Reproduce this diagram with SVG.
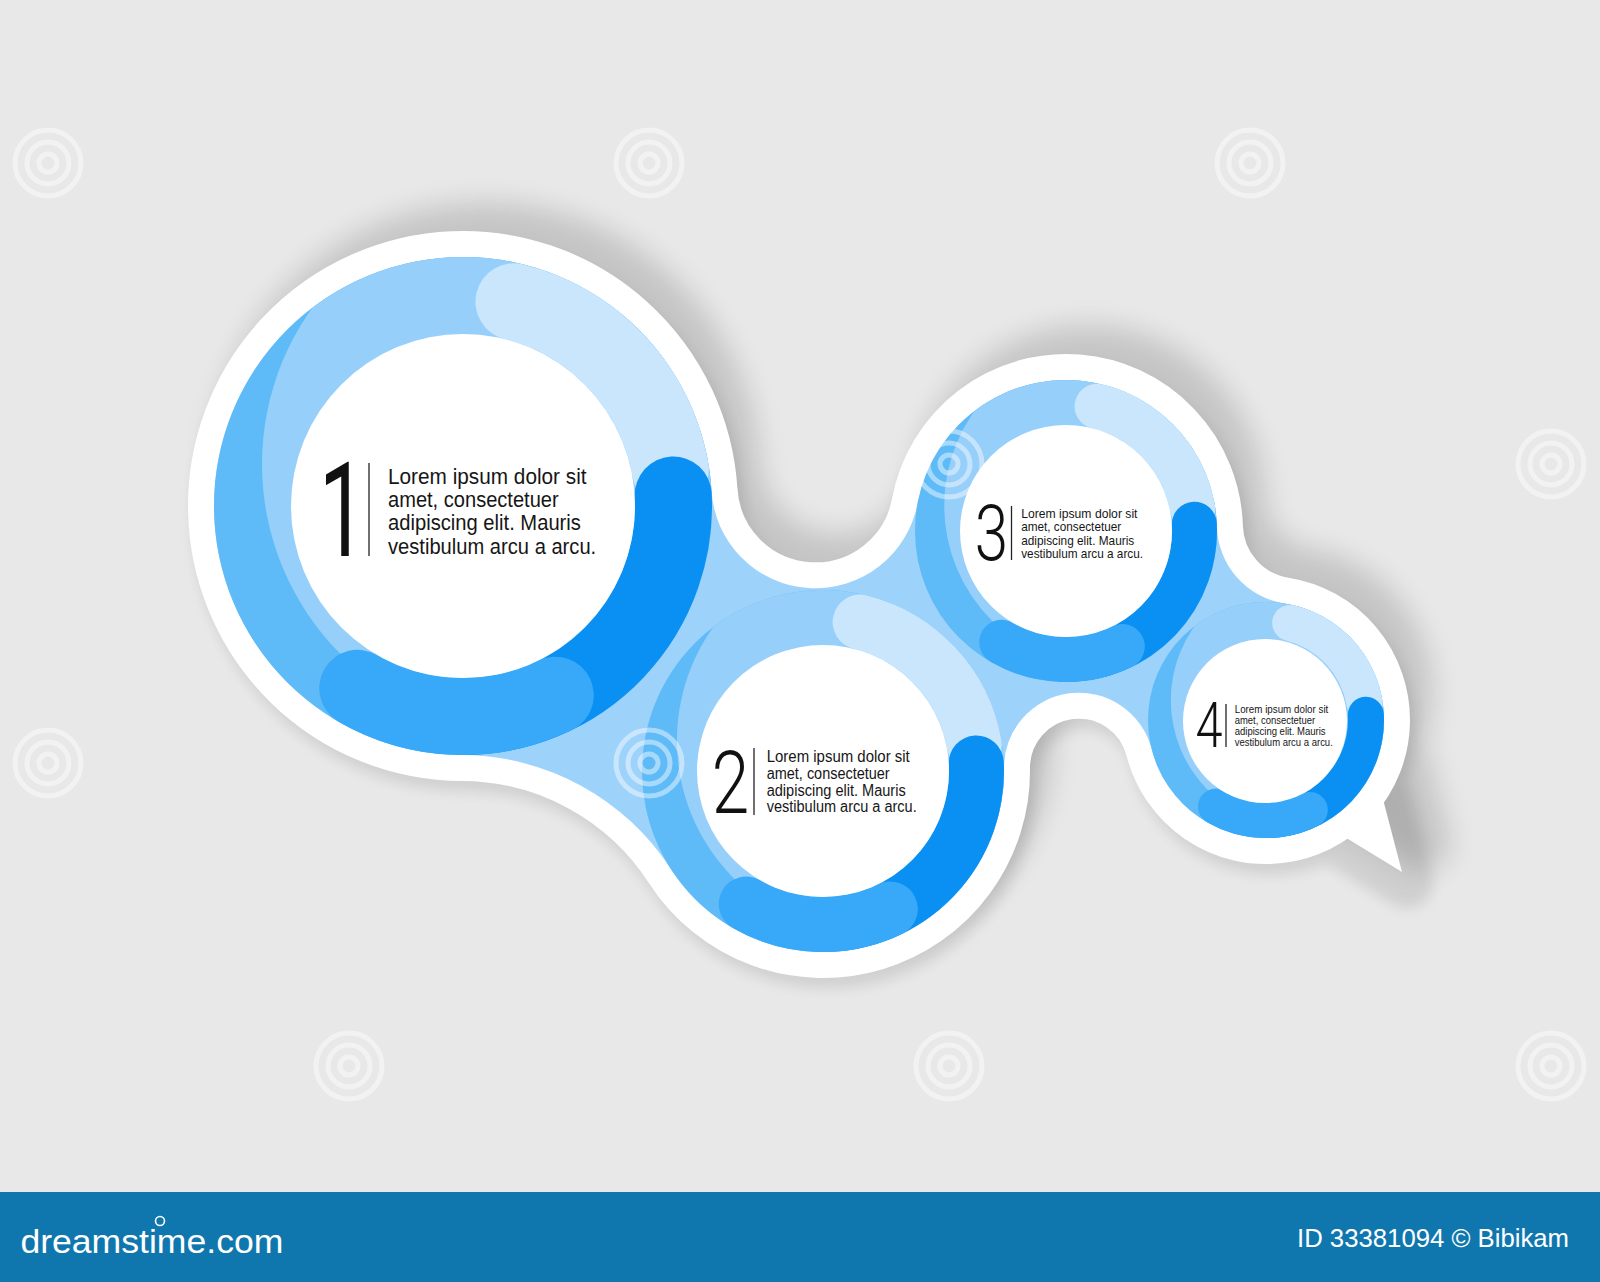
<svg xmlns="http://www.w3.org/2000/svg" width="1600" height="1282" viewBox="0 0 1600 1282">
<defs>
<style>
.lorem{font-family:'Liberation Sans','DejaVu Sans',sans-serif;fill:#161616}
.num{font-family:Roboto,'Liberation Sans',sans-serif;font-weight:300;fill:#111}
.num.heavy{font-weight:400}
.div{stroke:#222;stroke-width:1.3}
.vl{fill:none;stroke:#c9e6fc;stroke-linecap:round}
.dk{fill:none;stroke:#0a8ff2;stroke-linecap:round}
.br{fill:none;stroke:#37a9f8;stroke-linecap:round}
.med{fill:#5fbaf8}
.lt{fill:#95cffa}
.inner{fill:#fff}
.wm{fill:none;stroke:#fff;stroke-width:5;opacity:0.45}
.foot{font-family:'Liberation Sans','DejaVu Sans',sans-serif;fill:#fff}
</style>
<path id="blob" d="M462.05 755 A249 249 0 1 1 711.47 489.78 A104 104 0 0 0 917.7 502.6 A151 151 0 0 1 1216.94 526.71 A80 80 0 0 0 1284.42 603.45 A118 118 0 1 1 1151.71 749.34 A75 75 0 0 0 1004 768.88 A181 181 0 0 1 671 869.3 A250 250 0 0 0 462.05 755 Z"/>
<path id="tail" d="M1330 828 L1402 872 L1380.6 790 Z"/>
<clipPath id="cp1"><circle cx="463" cy="506" r="249"/></clipPath>
<clipPath id="cp2"><circle cx="823" cy="771" r="181"/></clipPath>
<clipPath id="cp3"><circle cx="1066" cy="531" r="151"/></clipPath>
<clipPath id="cp4"><circle cx="1266" cy="720" r="118"/></clipPath>
<filter id="blurA" x="-20%" y="-20%" width="140%" height="140%"><feGaussianBlur stdDeviation="14"/></filter>
<filter id="blurB" x="-20%" y="-20%" width="140%" height="140%"><feGaussianBlur stdDeviation="7"/></filter>
</defs>

<rect width="1600" height="1282" fill="#e8e8e8"/>

<g id="shadow" fill="#000" stroke="#000" stroke-width="52" stroke-linejoin="round">
  <g opacity="0.15" filter="url(#blurA)" transform="translate(22,-28)"><use href="#blob"/><use href="#tail"/></g>
  <g opacity="0.10" filter="url(#blurB)" transform="translate(5,10)"><use href="#blob"/><use href="#tail"/></g>
</g>

<g id="outline">
  <use href="#blob" fill="#fff" stroke="#fff" stroke-width="52" stroke-linejoin="round"/>
  <use href="#tail" fill="#fff"/>
  <use href="#blob" fill="#9dd3fb"/>
</g>

<g id="node1">
  <circle class="med" cx="463" cy="506" r="249"/>
  <circle class="lt" cx="530.7" cy="464.2" r="268.7" clip-path="url(#cp1)"/>
  <path class="vl" stroke-width="77" d="M513.92 301.75 A210.5 210.5 0 0 1 670.30 469.45"/>
  <path class="dk" stroke-width="77" d="M673.21 494.98 A210.5 210.5 0 0 1 463 716.5"/>
  <path class="br" stroke-width="77" d="M555.28 695.20 A210.5 210.5 0 0 1 357.75 688.30"/>
  <circle class="inner" cx="463" cy="506" r="172"/>
  <text class="num heavy" x="319" y="556" font-size="131" textLength="47" lengthAdjust="spacingAndGlyphs">1</text>
  <line class="div" x1="369" y1="463" x2="369" y2="556"/>
  <g class="lorem" font-size="22">
    <text x="388" y="484" textLength="198.6" lengthAdjust="spacingAndGlyphs">Lorem ipsum dolor sit</text>
    <text x="388" y="507.2" textLength="170.7" lengthAdjust="spacingAndGlyphs">amet, consectetuer</text>
    <text x="388" y="530.4" textLength="192.9" lengthAdjust="spacingAndGlyphs">adipiscing elit. Mauris</text>
    <text x="388" y="553.6" textLength="208.2" lengthAdjust="spacingAndGlyphs">vestibulum arcu a arcu.</text>
  </g>
</g>

<g id="node2">
  <circle class="med" cx="823" cy="771" r="181"/>
  <circle class="lt" cx="872.2" cy="740.6" r="195.3" clip-path="url(#cp2)"/>
  <path class="vl" stroke-width="55" d="M860.14 622.06 A153.5 153.5 0 0 1 974.17 744.34"/>
  <path class="dk" stroke-width="55" d="M976.29 762.97 A153.5 153.5 0 0 1 823 924.5"/>
  <path class="br" stroke-width="55" d="M890.29 908.96 A153.5 153.5 0 0 1 746.25 903.94"/>
  <circle class="inner" cx="823" cy="771" r="126"/>
  <text class="num" x="711.7" y="813.3" font-size="86.6" textLength="37.5" lengthAdjust="spacingAndGlyphs">2</text>
  <line class="div" x1="754" y1="748" x2="754" y2="815"/>
  <g class="lorem" font-size="16">
    <text x="766.7" y="762.3" textLength="143.1" lengthAdjust="spacingAndGlyphs">Lorem ipsum dolor sit</text>
    <text x="766.7" y="779" textLength="123" lengthAdjust="spacingAndGlyphs">amet, consectetuer</text>
    <text x="766.7" y="795.7" textLength="139" lengthAdjust="spacingAndGlyphs">adipiscing elit. Mauris</text>
    <text x="766.7" y="812.4" textLength="150" lengthAdjust="spacingAndGlyphs">vestibulum arcu a arcu.</text>
  </g>
</g>

<g id="node3">
  <circle class="med" cx="1066" cy="531" r="151"/>
  <circle class="lt" cx="1107.1" cy="505.6" r="162.9" clip-path="url(#cp3)"/>
  <path class="vl" stroke-width="45" d="M1097.09 406.32 A128.5 128.5 0 0 1 1192.55 508.69"/>
  <path class="dk" stroke-width="45" d="M1194.32 524.27 A128.5 128.5 0 0 1 1066 659.5"/>
  <path class="br" stroke-width="45" d="M1122.33 646.49 A128.5 128.5 0 0 1 1001.75 642.28"/>
  <circle class="inner" cx="1066" cy="531" r="106"/>
  <text class="num" x="974.8" y="560.4" font-size="78" textLength="33.3" lengthAdjust="spacingAndGlyphs">3</text>
  <line class="div" x1="1011.5" y1="506" x2="1011.5" y2="560"/>
  <g class="lorem" font-size="12.9">
    <text x="1021.2" y="517.5" textLength="116.3" lengthAdjust="spacingAndGlyphs">Lorem ipsum dolor sit</text>
    <text x="1021.2" y="531" textLength="100" lengthAdjust="spacingAndGlyphs">amet, consectetuer</text>
    <text x="1021.2" y="544.5" textLength="113" lengthAdjust="spacingAndGlyphs">adipiscing elit. Mauris</text>
    <text x="1021.2" y="558" textLength="121.9" lengthAdjust="spacingAndGlyphs">vestibulum arcu a arcu.</text>
  </g>
</g>

<g id="node4">
  <circle class="med" cx="1266" cy="720" r="118"/>
  <circle class="lt" cx="1298.1" cy="700.2" r="127.3" clip-path="url(#cp4)"/>
  <path class="vl" stroke-width="36" d="M1290.19 622.97 A100 100 0 0 1 1364.48 702.64"/>
  <path class="dk" stroke-width="36" d="M1365.86 714.77 A100 100 0 0 1 1266 820"/>
  <path class="br" stroke-width="36" d="M1309.84 809.88 A100 100 0 0 1 1216 806.6"/>
  <circle class="inner" cx="1265" cy="721" r="82"/>
  <text class="num" x="1195.4" y="747" font-size="62.6" textLength="27" lengthAdjust="spacingAndGlyphs">4</text>
  <line class="div" x1="1226" y1="704" x2="1226" y2="747"/>
  <g class="lorem" font-size="10.4">
    <text x="1234.7" y="713.2" textLength="93.6" lengthAdjust="spacingAndGlyphs">Lorem ipsum dolor sit</text>
    <text x="1234.7" y="724.1" textLength="80.4" lengthAdjust="spacingAndGlyphs">amet, consectetuer</text>
    <text x="1234.7" y="735" textLength="90.9" lengthAdjust="spacingAndGlyphs">adipiscing elit. Mauris</text>
    <text x="1234.7" y="745.9" textLength="98.1" lengthAdjust="spacingAndGlyphs">vestibulum arcu a arcu.</text>
  </g>
</g>

<g id="watermark">
  <g class="wm" transform="translate(48,163)"><circle r="33"/><circle r="21"/><circle r="9"/></g>
  <g class="wm" transform="translate(649,163)"><circle r="33"/><circle r="21"/><circle r="9"/></g>
  <g class="wm" transform="translate(1250,163)"><circle r="33"/><circle r="21"/><circle r="9"/></g>
  <g class="wm" transform="translate(949,464)"><circle r="33"/><circle r="21"/><circle r="9"/></g>
  <g class="wm" transform="translate(1551,464)"><circle r="33"/><circle r="21"/><circle r="9"/></g>
  <g class="wm" transform="translate(48,763)"><circle r="33"/><circle r="21"/><circle r="9"/></g>
  <g class="wm" transform="translate(649,763)"><circle r="33"/><circle r="21"/><circle r="9"/></g>
  <g class="wm" transform="translate(349,1066)"><circle r="33"/><circle r="21"/><circle r="9"/></g>
  <g class="wm" transform="translate(949,1066)"><circle r="33"/><circle r="21"/><circle r="9"/></g>
  <g class="wm" transform="translate(1551,1066)"><circle r="33"/><circle r="21"/><circle r="9"/></g>
</g>

<g id="footer">
  <rect x="0" y="1192" width="1600" height="90" fill="#1077ae"/>
  <circle cx="160" cy="1221" r="4.5" fill="none" stroke="#fff" stroke-width="1.6"/>
  <text class="foot" x="20.4" y="1253" font-size="33" textLength="263" lengthAdjust="spacingAndGlyphs">dreamstime.com</text>
  <text class="foot" x="1297" y="1247" font-size="25" textLength="272" lengthAdjust="spacingAndGlyphs">ID 33381094 © Bibikam</text>
</g>
</svg>
